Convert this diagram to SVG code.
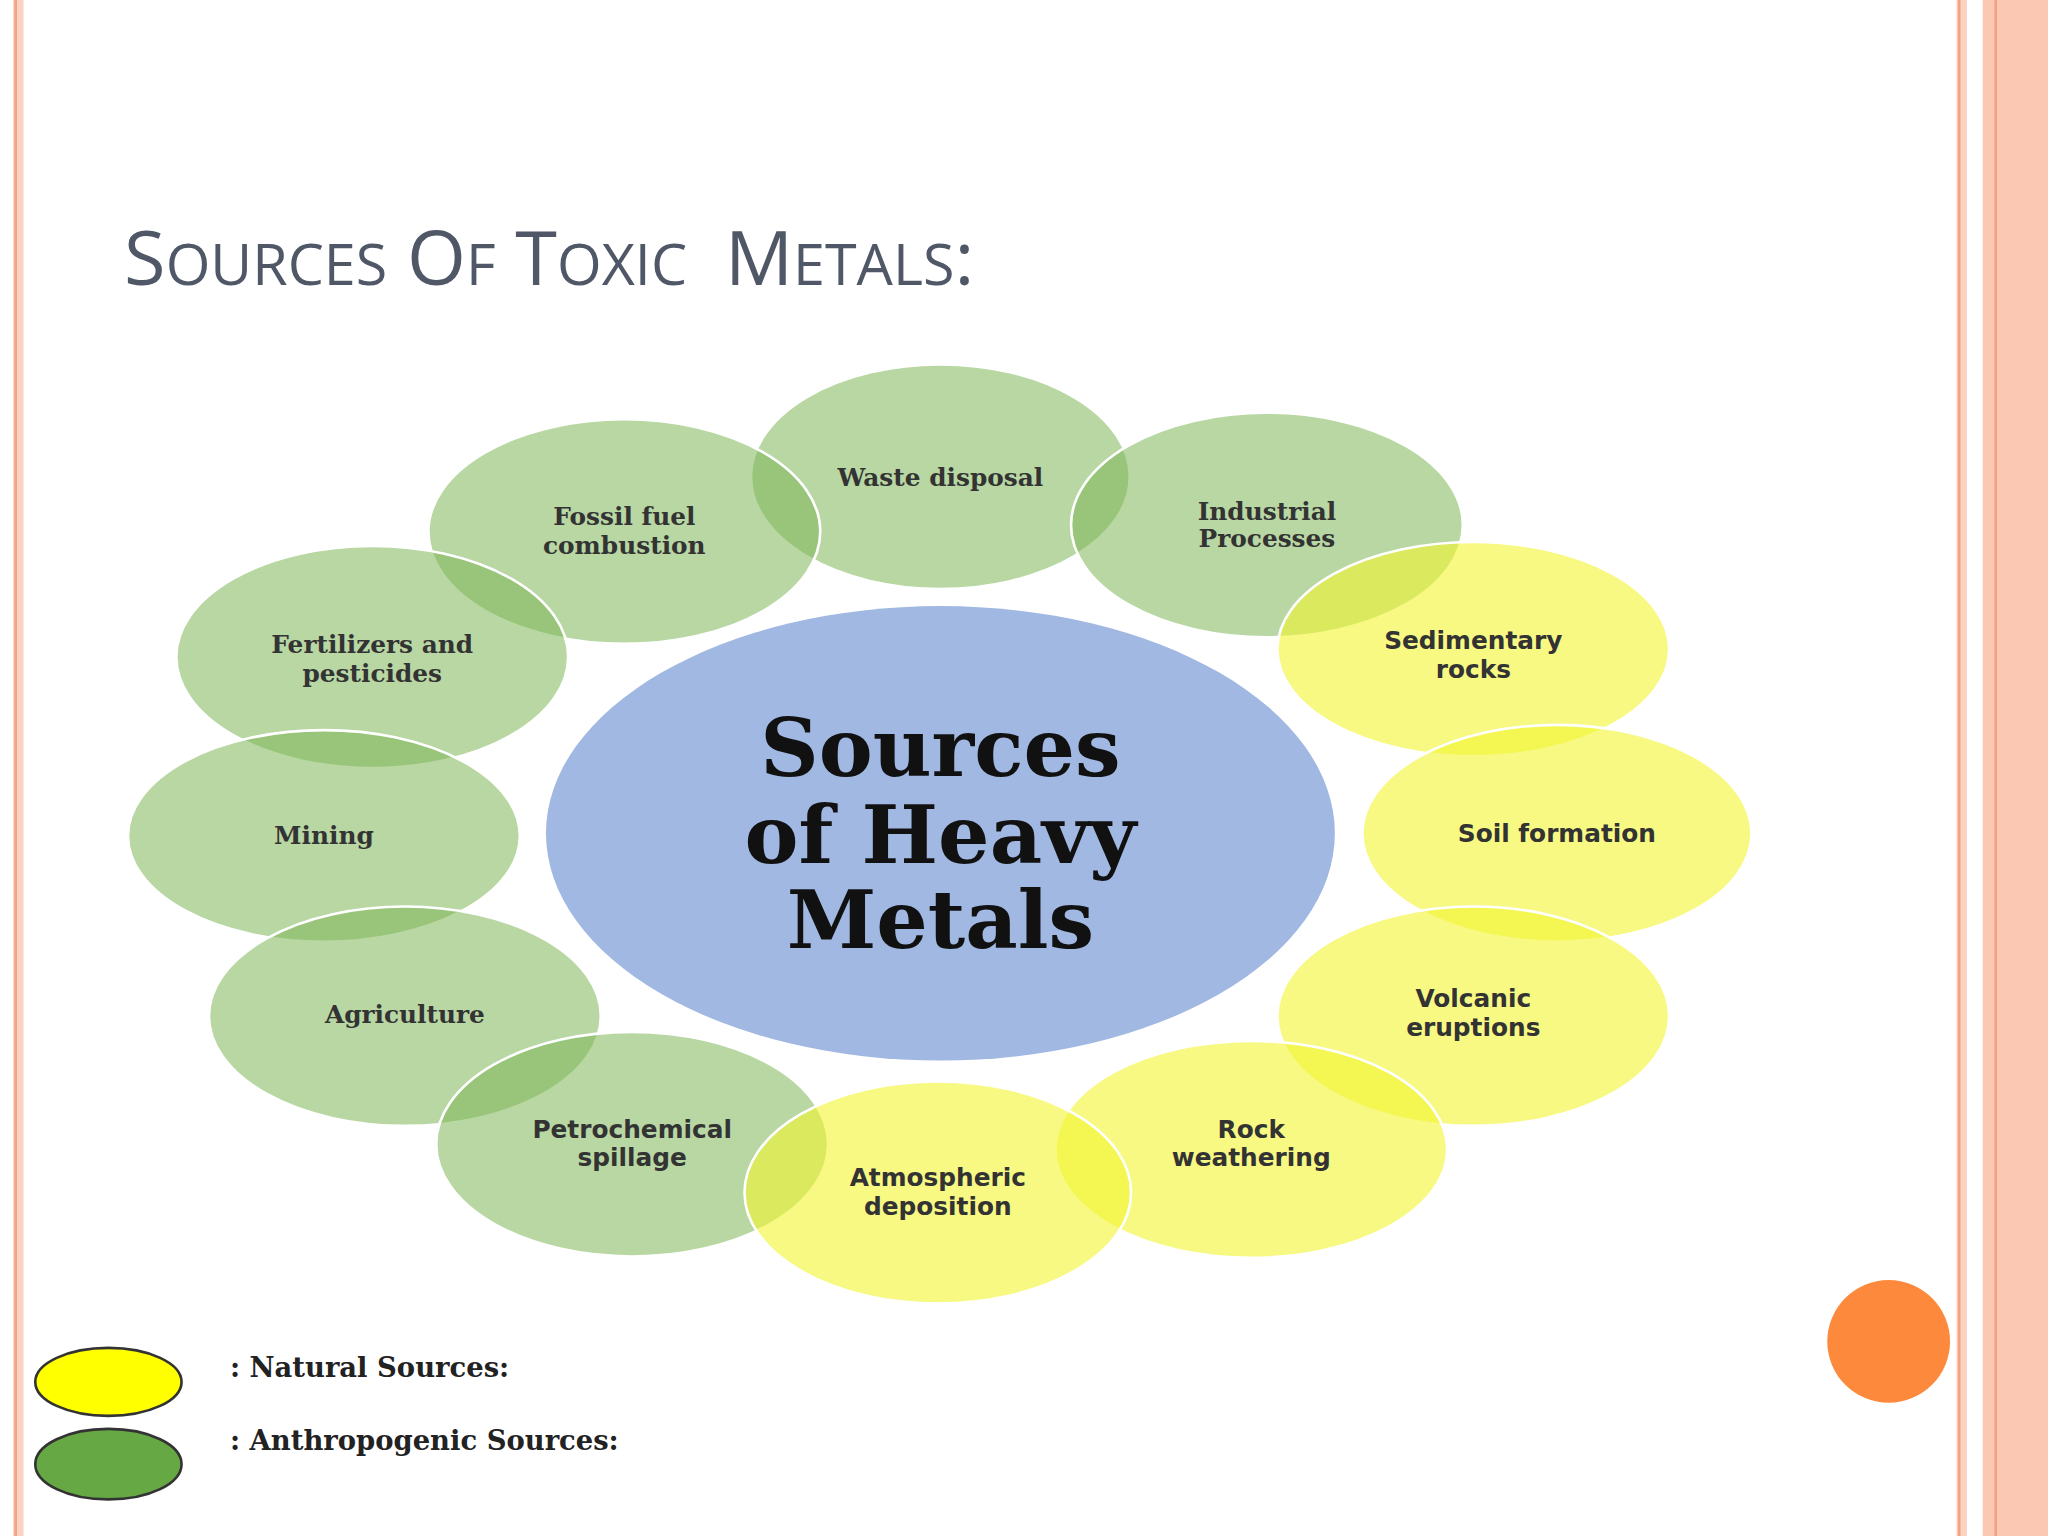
<svg xmlns="http://www.w3.org/2000/svg" width="2048" height="1536" viewBox="0 0 2048 1536">
<style>
.g{fill:#7db657;fill-opacity:0.55;stroke:#ffffff;stroke-width:2}
.y{fill:#f2f530;fill-opacity:0.6;stroke:#ffffff;stroke-width:2}
.ts{font-family:"DejaVu Serif",serif;font-weight:bold;font-size:19px;fill:#333;text-anchor:middle}
.tn{font-family:"DejaVu Sans",sans-serif;font-weight:bold;font-size:19px;fill:#333;text-anchor:middle}
.lg{font-family:"DejaVu Serif",serif;font-weight:bold;font-size:21px;fill:#222}
</style>
<rect width="2048" height="1536" fill="#ffffff"/>
<g transform="scale(1.30612)">
<g id="border">
<rect x="10" y="0" width="8" height="1176" fill="#fbd3c0"/>
<line x1="12" y1="0" x2="12" y2="1176" stroke="#f4a184" stroke-width="2"/>
<rect x="1498" y="0" width="8" height="1176" fill="#fbd3c0"/>
<line x1="1500" y1="0" x2="1500" y2="1176" stroke="#f4a184" stroke-width="2"/>
<rect x="1518" y="0" width="50" height="1176" fill="#fbc9b3"/>
<line x1="1528" y1="0" x2="1528" y2="1176" stroke="#f4a184" stroke-width="2"/>
</g>
<text id="title" x="95" y="218" font-family="'Open Sans',sans-serif" fill="#505868" font-size="58">S<tspan font-size="44">OURCES</tspan> O<tspan font-size="44">F</tspan> T<tspan font-size="44">OXIC</tspan><tspan x="555">M</tspan><tspan font-size="44">ETALS</tspan>:</text>
<g id="center"><ellipse cx="720" cy="638" rx="302" ry="174" fill="#a0b8e2"/>
<text font-family="'DejaVu Serif',serif" font-weight="bold" font-size="62" fill="#111" text-anchor="middle"><tspan x="720" y="594">Sources</tspan><tspan x="720" y="661">of Heavy</tspan><tspan x="720" y="726">Metals</tspan></text></g>
<g id="waste"><ellipse class="g" cx="720" cy="365" rx="145" ry="86"/><text class="ts" x="720" y="372">Waste disposal</text></g>
<g id="fossil"><ellipse class="g" cx="478" cy="407" rx="150" ry="86"/><text class="ts" x="478" y="402">Fossil fuel</text><text class="ts" x="478" y="424">combustion</text></g>
<g id="industrial"><ellipse class="g" cx="970" cy="402" rx="150" ry="86"/><text class="ts" x="970" y="398">Industrial</text><text class="ts" x="970" y="419">Processes</text></g>
<g id="fertilizers"><ellipse class="g" cx="285" cy="503" rx="150" ry="85"/><text class="ts" x="285" y="500">Fertilizers and</text><text class="ts" x="285" y="522">pesticides</text></g>
<g id="mining"><ellipse class="g" cx="248" cy="640" rx="150" ry="81"/><text class="ts" x="248" y="646">Mining</text></g>
<g id="agriculture"><ellipse class="g" cx="310" cy="778" rx="150" ry="84"/><text class="ts" x="310" y="783">Agriculture</text></g>
<g id="petro"><ellipse class="g" cx="484" cy="876" rx="150" ry="86"/><text class="tn" x="484" y="871">Petrochemical</text><text class="tn" x="484" y="893">spillage</text></g>
<g id="sedimentary"><ellipse class="y" cx="1128" cy="497" rx="150" ry="82"/><text class="tn" x="1128" y="497">Sedimentary</text><text class="tn" x="1128" y="519">rocks</text></g>
<g id="soil"><ellipse class="y" cx="1192" cy="638" rx="149" ry="83"/><text class="tn" x="1192" y="645">Soil formation</text></g>
<g id="volcanic"><ellipse class="y" cx="1128" cy="778" rx="150" ry="84"/><text class="tn" x="1128" y="771">Volcanic</text><text class="tn" x="1128" y="793">eruptions</text></g>
<g id="rock"><ellipse class="y" cx="958" cy="880" rx="150" ry="83"/><text class="tn" x="958" y="871">Rock</text><text class="tn" x="958" y="893">weathering</text></g>
<g id="atmospheric"><ellipse class="y" cx="718" cy="913" rx="148" ry="85"/><text class="tn" x="718" y="908">Atmospheric</text><text class="tn" x="718" y="930">deposition</text></g>
<g id="legend">
<ellipse cx="83" cy="1058" rx="56" ry="26" fill="#ffff00" stroke="#333" stroke-width="2"/>
<ellipse cx="83" cy="1121" rx="56" ry="27" fill="#66a844" stroke="#333" stroke-width="2"/>
<text class="lg" x="176" y="1054">: Natural Sources:</text>
<text class="lg" x="176" y="1110">: Anthropogenic Sources:</text>
</g>
<circle id="dot" cx="1446" cy="1027" r="47" fill="#fd8a3c"/>
</g>
</svg>
